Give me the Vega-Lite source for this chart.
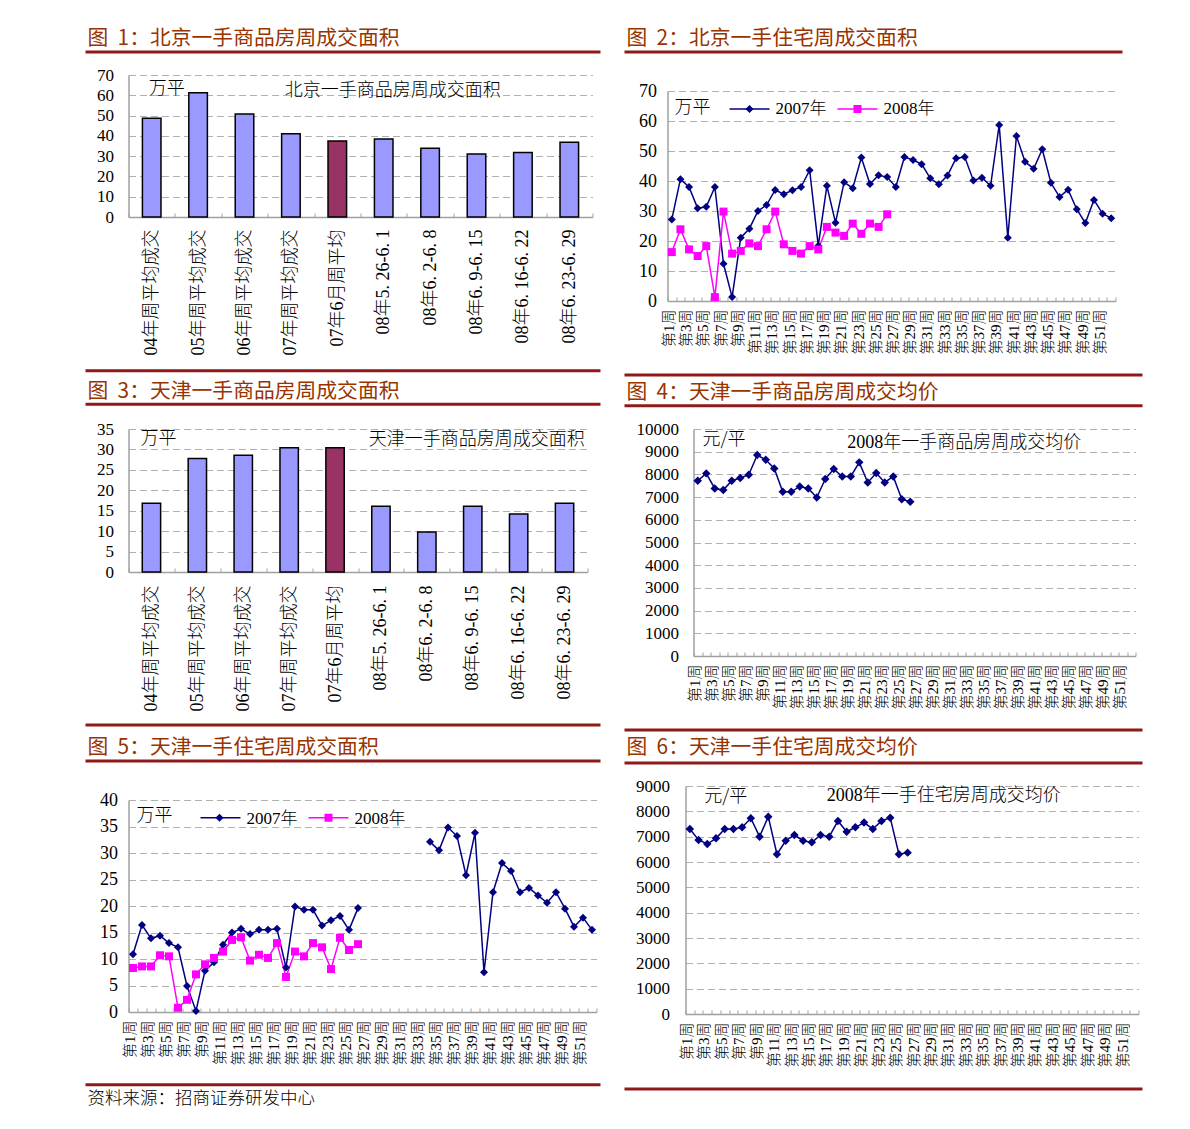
{
  "$schema": "https://vega.github.io/schema/vega-lite/v6.json",
  "background": "white",
  "padding": {"left": 83.5, "top": 20, "right": 0, "bottom": 0},
  "config": {
    "view": {"stroke": null},
    "font": "Liberation Serif, Noto Sans CJK SC",
    "axis": {
      "labelFont": "Liberation Serif, Noto Sans CJK SC",
      "labelFontWeight": 300,
      "labelColor": "#000000",
      "domainColor": "#A0A0A0",
      "domainWidth": 1.5,
      "tickColor": "#A0A0A0",
      "tickWidth": 1,
      "gridColor": "#B0B0B0",
      "gridDash": [7, 4],
      "gridWidth": 1,
      "labelOverlap": false
    },
    "axisX": {"grid": false, "tickSize": -4, "labelFlush": false},
    "axisY": {"grid": true, "ticks": false, "tickSize": 0},
    "text": {"color": "#000000"}
  },
  "datasets": {
    "bj_bar": [
      {"label": "04年周平均成交", "value": 48.7},
      {"label": "05年周平均成交", "value": 61.3},
      {"label": "06年周平均成交", "value": 50.8},
      {"label": "07年周平均成交", "value": 41.1},
      {"label": "07年6月周平均", "value": 37.5},
      {"label": "08年5. 26-6. 1", "value": 38.4},
      {"label": "08年6. 2-6. 8", "value": 33.9},
      {"label": "08年6. 9-6. 15", "value": 31.0},
      {"label": "08年6. 16-6. 22", "value": 31.8},
      {"label": "08年6. 23-6. 29", "value": 36.9}
    ],
    "tj_bar": [
      {"label": "04年周平均成交", "value": 16.8},
      {"label": "05年周平均成交", "value": 27.8},
      {"label": "06年周平均成交", "value": 28.6},
      {"label": "07年周平均成交", "value": 30.4},
      {"label": "07年6月周平均", "value": 30.4},
      {"label": "08年5. 26-6. 1", "value": 16.1},
      {"label": "08年6. 2-6. 8", "value": 9.8},
      {"label": "08年6. 9-6. 15", "value": 16.1},
      {"label": "08年6. 16-6. 22", "value": 14.2},
      {"label": "08年6. 23-6. 29", "value": 16.8}
    ],
    "bj_week": [
      {"week": 1, "series": "2007年", "value": 27.2},
      {"week": 2, "series": "2007年", "value": 40.6},
      {"week": 3, "series": "2007年", "value": 38.0},
      {"week": 4, "series": "2007年", "value": 30.9},
      {"week": 5, "series": "2007年", "value": 31.4},
      {"week": 6, "series": "2007年", "value": 38.0},
      {"week": 7, "series": "2007年", "value": 12.4},
      {"week": 8, "series": "2007年", "value": 1.3},
      {"week": 9, "series": "2007年", "value": 21.1},
      {"week": 10, "series": "2007年", "value": 24.1},
      {"week": 11, "series": "2007年", "value": 30.0},
      {"week": 12, "series": "2007年", "value": 32.0},
      {"week": 13, "series": "2007年", "value": 37.0},
      {"week": 14, "series": "2007年", "value": 35.6},
      {"week": 15, "series": "2007年", "value": 36.9},
      {"week": 16, "series": "2007年", "value": 38.0},
      {"week": 17, "series": "2007年", "value": 43.6},
      {"week": 18, "series": "2007年", "value": 18.4},
      {"week": 19, "series": "2007年", "value": 38.4},
      {"week": 20, "series": "2007年", "value": 26.1},
      {"week": 21, "series": "2007年", "value": 39.6},
      {"week": 22, "series": "2007年", "value": 37.6},
      {"week": 23, "series": "2007年", "value": 47.8},
      {"week": 24, "series": "2007年", "value": 39.0},
      {"week": 25, "series": "2007年", "value": 41.9},
      {"week": 26, "series": "2007年", "value": 41.3},
      {"week": 27, "series": "2007年", "value": 38.0},
      {"week": 28, "series": "2007年", "value": 48.0},
      {"week": 29, "series": "2007年", "value": 47.0},
      {"week": 30, "series": "2007年", "value": 45.6},
      {"week": 31, "series": "2007年", "value": 40.9},
      {"week": 32, "series": "2007年", "value": 38.9},
      {"week": 33, "series": "2007年", "value": 41.8},
      {"week": 34, "series": "2007年", "value": 47.6},
      {"week": 35, "series": "2007年", "value": 48.0},
      {"week": 36, "series": "2007年", "value": 40.2},
      {"week": 37, "series": "2007年", "value": 41.1},
      {"week": 38, "series": "2007年", "value": 38.4},
      {"week": 39, "series": "2007年", "value": 58.7},
      {"week": 40, "series": "2007年", "value": 21.1},
      {"week": 41, "series": "2007年", "value": 55.0},
      {"week": 42, "series": "2007年", "value": 46.4},
      {"week": 43, "series": "2007年", "value": 44.1},
      {"week": 44, "series": "2007年", "value": 50.6},
      {"week": 45, "series": "2007年", "value": 39.4},
      {"week": 46, "series": "2007年", "value": 34.7},
      {"week": 47, "series": "2007年", "value": 37.1},
      {"week": 48, "series": "2007年", "value": 30.6},
      {"week": 49, "series": "2007年", "value": 26.0},
      {"week": 50, "series": "2007年", "value": 33.7},
      {"week": 51, "series": "2007年", "value": 29.1},
      {"week": 52, "series": "2007年", "value": 27.6},
      {"week": 1, "series": "2008年", "value": 16.3},
      {"week": 2, "series": "2008年", "value": 23.9},
      {"week": 3, "series": "2008年", "value": 17.2},
      {"week": 4, "series": "2008年", "value": 15.0},
      {"week": 5, "series": "2008年", "value": 18.3},
      {"week": 6, "series": "2008年", "value": 1.3},
      {"week": 7, "series": "2008年", "value": 29.8},
      {"week": 8, "series": "2008年", "value": 15.8},
      {"week": 9, "series": "2008年", "value": 16.7},
      {"week": 10, "series": "2008年", "value": 19.2},
      {"week": 11, "series": "2008年", "value": 18.3},
      {"week": 12, "series": "2008年", "value": 23.9},
      {"week": 13, "series": "2008年", "value": 29.8},
      {"week": 14, "series": "2008年", "value": 18.9},
      {"week": 15, "series": "2008年", "value": 16.7},
      {"week": 16, "series": "2008年", "value": 15.8},
      {"week": 17, "series": "2008年", "value": 18.3},
      {"week": 18, "series": "2008年", "value": 17.2},
      {"week": 19, "series": "2008年", "value": 24.7},
      {"week": 20, "series": "2008年", "value": 22.8},
      {"week": 21, "series": "2008年", "value": 21.7},
      {"week": 22, "series": "2008年", "value": 25.8},
      {"week": 23, "series": "2008年", "value": 22.4},
      {"week": 24, "series": "2008年", "value": 25.8},
      {"week": 25, "series": "2008年", "value": 24.7},
      {"week": 26, "series": "2008年", "value": 28.9}
    ],
    "tj_price": [
      {"week": 1, "value": 7720}, {"week": 2, "value": 8045}, {"week": 3, "value": 7380},
      {"week": 4, "value": 7310}, {"week": 5, "value": 7720}, {"week": 6, "value": 7840},
      {"week": 7, "value": 7985}, {"week": 8, "value": 8855}, {"week": 9, "value": 8645},
      {"week": 10, "value": 8265}, {"week": 11, "value": 7235}, {"week": 12, "value": 7235},
      {"week": 13, "value": 7470}, {"week": 14, "value": 7380}, {"week": 15, "value": 6985},
      {"week": 16, "value": 7795}, {"week": 17, "value": 8235}, {"week": 18, "value": 7910},
      {"week": 19, "value": 7910}, {"week": 20, "value": 8530}, {"week": 21, "value": 7645},
      {"week": 22, "value": 8060}, {"week": 23, "value": 7645}, {"week": 24, "value": 7910},
      {"week": 25, "value": 6910}, {"week": 26, "value": 6795}
    ],
    "tj_week": [
      {"week": 1, "series": "2007年", "value": 10.9},
      {"week": 2, "series": "2007年", "value": 16.4},
      {"week": 3, "series": "2007年", "value": 13.9},
      {"week": 4, "series": "2007年", "value": 14.4},
      {"week": 5, "series": "2007年", "value": 13.0},
      {"week": 6, "series": "2007年", "value": 12.2},
      {"week": 7, "series": "2007年", "value": 4.9},
      {"week": 8, "series": "2007年", "value": 0.2},
      {"week": 9, "series": "2007年", "value": 7.8},
      {"week": 10, "series": "2007年", "value": 9.4},
      {"week": 11, "series": "2007年", "value": 12.7},
      {"week": 12, "series": "2007年", "value": 15.0},
      {"week": 13, "series": "2007年", "value": 15.7},
      {"week": 14, "series": "2007年", "value": 14.7},
      {"week": 15, "series": "2007年", "value": 15.5},
      {"week": 16, "series": "2007年", "value": 15.5},
      {"week": 17, "series": "2007年", "value": 15.7},
      {"week": 18, "series": "2007年", "value": 8.4},
      {"week": 19, "series": "2007年", "value": 19.9},
      {"week": 20, "series": "2007年", "value": 19.3},
      {"week": 21, "series": "2007年", "value": 19.3},
      {"week": 22, "series": "2007年", "value": 16.3},
      {"week": 23, "series": "2007年", "value": 17.3},
      {"week": 24, "series": "2007年", "value": 18.1},
      {"week": 25, "series": "2007年", "value": 15.5},
      {"week": 26, "series": "2007年", "value": 19.6},
      {"week": 27, "series": "2007年", "value": null},
      {"week": 28, "series": "2007年", "value": null},
      {"week": 29, "series": "2007年", "value": null},
      {"week": 30, "series": "2007年", "value": null},
      {"week": 31, "series": "2007年", "value": null},
      {"week": 32, "series": "2007年", "value": null},
      {"week": 33, "series": "2007年", "value": null},
      {"week": 34, "series": "2007年", "value": 32.1},
      {"week": 35, "series": "2007年", "value": 30.5},
      {"week": 36, "series": "2007年", "value": 34.8},
      {"week": 37, "series": "2007年", "value": 33.2},
      {"week": 38, "series": "2007年", "value": 25.8},
      {"week": 39, "series": "2007年", "value": 33.8},
      {"week": 40, "series": "2007年", "value": 7.5},
      {"week": 41, "series": "2007年", "value": 22.6},
      {"week": 42, "series": "2007年", "value": 28.1},
      {"week": 43, "series": "2007年", "value": 26.6},
      {"week": 44, "series": "2007年", "value": 22.6},
      {"week": 45, "series": "2007年", "value": 23.4},
      {"week": 46, "series": "2007年", "value": 22.0},
      {"week": 47, "series": "2007年", "value": 20.6},
      {"week": 48, "series": "2007年", "value": 22.6},
      {"week": 49, "series": "2007年", "value": 19.5},
      {"week": 50, "series": "2007年", "value": 16.1},
      {"week": 51, "series": "2007年", "value": 17.8},
      {"week": 52, "series": "2007年", "value": 15.5},
      {"week": 1, "series": "2008年", "value": 8.3},
      {"week": 2, "series": "2008年", "value": 8.6},
      {"week": 3, "series": "2008年", "value": 8.6},
      {"week": 4, "series": "2008年", "value": 10.7},
      {"week": 5, "series": "2008年", "value": 10.5},
      {"week": 6, "series": "2008年", "value": 0.8},
      {"week": 7, "series": "2008年", "value": 2.3},
      {"week": 8, "series": "2008年", "value": 7.1},
      {"week": 9, "series": "2008年", "value": 9.0},
      {"week": 10, "series": "2008年", "value": 10.2},
      {"week": 11, "series": "2008年", "value": 11.4},
      {"week": 12, "series": "2008年", "value": 13.6},
      {"week": 13, "series": "2008年", "value": 14.1},
      {"week": 14, "series": "2008年", "value": 9.7},
      {"week": 15, "series": "2008年", "value": 10.8},
      {"week": 16, "series": "2008年", "value": 10.2},
      {"week": 17, "series": "2008年", "value": 13.0},
      {"week": 18, "series": "2008年", "value": 6.6},
      {"week": 19, "series": "2008年", "value": 11.4},
      {"week": 20, "series": "2008年", "value": 10.5},
      {"week": 21, "series": "2008年", "value": 13.0},
      {"week": 22, "series": "2008年", "value": 12.2},
      {"week": 23, "series": "2008年", "value": 8.1},
      {"week": 24, "series": "2008年", "value": 14.0},
      {"week": 25, "series": "2008年", "value": 11.7},
      {"week": 26, "series": "2008年", "value": 12.8}
    ],
    "tj_res_price": [
      {"week": 1, "value": 7305}, {"week": 2, "value": 6870}, {"week": 3, "value": 6710},
      {"week": 4, "value": 6935}, {"week": 5, "value": 7305}, {"week": 6, "value": 7305},
      {"week": 7, "value": 7370}, {"week": 8, "value": 7725}, {"week": 9, "value": 7000},
      {"week": 10, "value": 7790}, {"week": 11, "value": 6305}, {"week": 12, "value": 6840},
      {"week": 13, "value": 7065}, {"week": 14, "value": 6840}, {"week": 15, "value": 6775},
      {"week": 16, "value": 7065}, {"week": 17, "value": 7000}, {"week": 18, "value": 7620},
      {"week": 19, "value": 7195}, {"week": 20, "value": 7370}, {"week": 21, "value": 7555},
      {"week": 22, "value": 7305}, {"week": 23, "value": 7620}, {"week": 24, "value": 7750},
      {"week": 25, "value": 6305}, {"week": 26, "value": 6370}
    ]
  },
  "spacing": 17,
  "hconcat": [
    {
      "spacing": 0,
      "vconcat": [
        {
          "width": 515, "height": 46,
          "data": {"values": [{"t": "图\u00a0\u00a01：北京一手商品房周成交面积"}]},
          "layer": [
            {"mark": {"type": "rule", "color": "#8E1A1A", "strokeWidth": 3},
             "encoding": {"y": {"datum": 0.3043, "type": "quantitative", "scale": {"domain": [0, 1], "nice": false}, "axis": null}}},
            {"mark": {"type": "text", "align": "left", "baseline": "middle", "font": "Noto Sans CJK SC", "fontSize": 20.8, "color": "#993300", "dx": 2, "dy": 2},
             "encoding": {
               "x": {"datum": 0, "type": "quantitative", "scale": {"domain": [0, 1], "nice": false}, "axis": null},
               "y": {"datum": 0.6304, "type": "quantitative"},
               "text": {"field": "t"}}}
          ]
        },
        {
          "spacing": 0,
          "hconcat": [
            {"width": 1, "height": 1, "data": {"values": []}, "mark": {"type": "point"}, "encoding": {}},
            {
              "width": 464, "height": 142,
              "data": {"name": "bj_bar"},
              "layer": [
                {"mark": {"type": "bar", "width": {"band": 0.4}, "stroke": "#000000", "strokeWidth": 1.5},
                 "encoding": {
                   "x": {"field": "label", "type": "nominal", "sort": null, "scale": {"paddingInner": 0, "paddingOuter": 0},
                         "axis": {"title": null, "labelAngle": 270, "labelPadding": 16, "labelFontSize": 18, "tickBand": "extent", "labelOverlap": false, "minExtent": 145}},
                   "y": {"field": "value", "type": "quantitative", "scale": {"domain": [0, 70], "nice": false},
                         "axis": {"title": null, "values": [0, 10, 20, 30, 40, 50, 60, 70], "tickCount": 100, "format": "d", "labelOverlap": false, "labelPadding": 15, "labelFontSize": 17, "minExtent": 42}},
                   "fill": {"condition": {"test": "datum.label === '07年6月周平均'", "value": "#993366"}, "value": "#9999FF"}}},
                {"data": {"values": [{}]},
                 "mark": {"type": "text", "align": "left", "baseline": "middle", "font": "Noto Sans CJK SC", "fontWeight": 300, "fontSize": 18, "dx": -3},
                 "encoding": {"x": {"datum": "04年周平均成交", "type": "nominal"}, "y": {"datum": 63.2, "type": "quantitative"}, "text": {"value": "万平"}}},
                {"data": {"values": [{}]},
                 "mark": {"type": "text", "align": "center", "baseline": "middle", "font": "Noto Sans CJK SC", "fontWeight": 300, "fontSize": 18, "dx": 9},
                 "encoding": {"x": {"datum": "08年5. 26-6. 1", "type": "nominal"}, "y": {"datum": 61.9, "type": "quantitative"}, "text": {"value": "北京一手商品房周成交面积"}}}
              ]
            }
          ]
        },
        {
          "width": 515, "height": 57.3,
          "data": {"values": [{"t": "图\u00a0\u00a03：天津一手商品房周成交面积"}]},
          "layer": [
            {"mark": {"type": "rule", "color": "#8E1A1A", "strokeWidth": 3},
             "encoding": {"y": {"datum": 0.8482, "type": "quantitative", "scale": {"domain": [0, 1], "nice": false}, "axis": null}}},
            {"mark": {"type": "rule", "color": "#8E1A1A", "strokeWidth": 3},
             "encoding": {"y": {"datum": 0.2618, "type": "quantitative"}}},
            {"mark": {"type": "text", "align": "left", "baseline": "middle", "font": "Noto Sans CJK SC", "fontSize": 20.8, "color": "#993300", "dx": 2, "dy": 2},
             "encoding": {
               "x": {"datum": 0, "type": "quantitative", "scale": {"domain": [0, 1], "nice": false}, "axis": null},
               "y": {"datum": 0.5113, "type": "quantitative"},
               "text": {"field": "t"}}}
          ]
        },
        {
          "spacing": 0,
          "hconcat": [
            {"width": 1, "height": 1, "data": {"values": []}, "mark": {"type": "point"}, "encoding": {}},
            {
              "width": 459, "height": 143,
              "data": {"name": "tj_bar"},
              "layer": [
                {"mark": {"type": "bar", "width": {"band": 0.4}, "stroke": "#000000", "strokeWidth": 1.5},
                 "encoding": {
                   "x": {"field": "label", "type": "nominal", "sort": null, "scale": {"paddingInner": 0, "paddingOuter": 0},
                         "axis": {"title": null, "labelAngle": 270, "labelPadding": 17, "labelFontSize": 18, "tickBand": "extent", "labelOverlap": false, "minExtent": 144.7}},
                   "y": {"field": "value", "type": "quantitative", "scale": {"domain": [0, 35], "nice": false},
                         "axis": {"title": null, "values": [0, 5, 10, 15, 20, 25, 30, 35], "tickCount": 100, "format": "d", "labelOverlap": false, "labelPadding": 15, "labelFontSize": 17, "minExtent": 42}},
                   "fill": {"condition": {"test": "datum.label === '07年6月周平均'", "value": "#993366"}, "value": "#9999FF"}}},
                {"data": {"values": [{}]},
                 "mark": {"type": "text", "align": "left", "baseline": "middle", "font": "Noto Sans CJK SC", "fontWeight": 300, "fontSize": 18, "dx": -11},
                 "encoding": {"x": {"datum": "04年周平均成交", "type": "nominal"}, "y": {"datum": 32.5, "type": "quantitative"}, "text": {"value": "万平"}}},
                {"data": {"values": [{}]},
                 "mark": {"type": "text", "align": "center", "baseline": "middle", "font": "Noto Sans CJK SC", "fontWeight": 300, "fontSize": 18, "dx": 4},
                 "encoding": {"x": {"datum": "08年6. 9-6. 15", "type": "nominal"}, "y": {"datum": 32.4, "type": "quantitative"}, "text": {"value": "天津一手商品房周成交面积"}}}
              ]
            }
          ]
        },
        {
          "width": 515, "height": 73.3,
          "data": {"values": [{"t": "图\u00a0\u00a05：天津一手住宅周成交面积"}]},
          "layer": [
            {"mark": {"type": "rule", "color": "#8E1A1A", "strokeWidth": 3},
             "encoding": {"y": {"datum": 0.8909, "type": "quantitative", "scale": {"domain": [0, 1], "nice": false}, "axis": null}}},
            {"mark": {"type": "rule", "color": "#8E1A1A", "strokeWidth": 3},
             "encoding": {"y": {"datum": 0.3997, "type": "quantitative"}}},
            {"mark": {"type": "text", "align": "left", "baseline": "middle", "font": "Noto Sans CJK SC", "fontSize": 20.8, "color": "#993300", "dx": 2, "dy": 2},
             "encoding": {
               "x": {"datum": 0, "type": "quantitative", "scale": {"domain": [0, 1], "nice": false}, "axis": null},
               "y": {"datum": 0.6044, "type": "quantitative"},
               "text": {"field": "t"}}}
          ]
        },
        {
          "spacing": 0,
          "hconcat": [
            {"width": 1, "height": 1, "data": {"values": []}, "mark": {"type": "point"}, "encoding": {}},
            {
              "width": 468, "height": 212,
              "layer": [
                {"data": {"name": "tj_week"},
                 "mark": {"type": "line", "strokeWidth": 1.5, "invalid": "break-paths-filter-domains"},
                 "encoding": {
                   "x": {"field": "week", "type": "quantitative", "scale": {"domain": [0.5, 52.5], "nice": false, "zero": false},
                         "axis": {"title": null, "values": [0.5,1.5,2.5,3.5,4.5,5.5,6.5,7.5,8.5,9.5,10.5,11.5,12.5,13.5,14.5,15.5,16.5,17.5,18.5,19.5,20.5,21.5,22.5,23.5,24.5,25.5,26.5,27.5,28.5,29.5,30.5,31.5,32.5,33.5,34.5,35.5,36.5,37.5,38.5,39.5,40.5,41.5,42.5,43.5,44.5,45.5,46.5,47.5,48.5,49.5,50.5,51.5,52.5],
                                  "tickCount": 100,
                                  "labelExpr": "datum.value < 52 && (datum.value - 0.5) % 2 == 0 ? '第' + (datum.value + 0.5) + '周' : ''",
                                  "labelAngle": 270, "labelPadding": 12, "labelOffset": 1, "labelFontSize": 15, "labelOverlap": false, "minExtent": 66}},
                   "y": {"field": "value", "type": "quantitative", "scale": {"domain": [0, 40], "nice": false},
                         "axis": {"title": null, "values": [0, 5, 10, 15, 20, 25, 30, 35, 40], "tickCount": 100, "format": "d", "labelOverlap": false, "labelPadding": 11, "labelFontSize": 18, "minExtent": 42}},
                   "color": {"field": "series", "type": "nominal", "scale": {"domain": ["2007年", "2008年"], "range": ["#000080", "#FF00FF"]}, "legend": null}}},
                {"data": {"name": "tj_week"},
                 "mark": {"type": "point", "filled": true, "size": 64, "opacity": 1},
                 "encoding": {
                   "x": {"field": "week", "type": "quantitative"},
                   "y": {"field": "value", "type": "quantitative"},
                   "color": {"field": "series", "type": "nominal", "legend": null},
                   "shape": {"field": "series", "type": "nominal", "scale": {"domain": ["2007年", "2008年"], "range": ["diamond", "square"]}, "legend": null}}},
                {"data": {"values": [{}]},
                 "mark": {"type": "text", "align": "left", "baseline": "middle", "font": "Noto Sans CJK SC", "fontWeight": 300, "fontSize": 18},
                 "encoding": {"x": {"datum": 1.39, "type": "quantitative"}, "y": {"datum": 37.0, "type": "quantitative"}, "text": {"value": "万平"}}},
                {"data": {"values": [{}]},
                 "mark": {"type": "rule", "color": "#000080", "strokeWidth": 1.5},
                 "encoding": {"x": {"datum": 8.5, "type": "quantitative"}, "x2": {"datum": 12.94}, "y": {"datum": 36.66, "type": "quantitative"}}},
                {"data": {"values": [{}]},
                 "mark": {"type": "point", "shape": "diamond", "filled": true, "color": "#000080", "size": 64, "opacity": 1},
                 "encoding": {"x": {"datum": 10.61, "type": "quantitative"}, "y": {"datum": 36.66, "type": "quantitative"}}},
                {"data": {"values": [{}]},
                 "mark": {"type": "text", "align": "left", "baseline": "middle", "font": "Liberation Serif, Noto Sans CJK SC", "fontWeight": 300, "fontSize": 17},
                 "encoding": {"x": {"datum": 13.61, "type": "quantitative"}, "y": {"datum": 36.5, "type": "quantitative"}, "text": {"value": "2007年"}}},
                {"data": {"values": [{}]},
                 "mark": {"type": "rule", "color": "#FF00FF", "strokeWidth": 1.5},
                 "encoding": {"x": {"datum": 20.5, "type": "quantitative"}, "x2": {"datum": 24.94}, "y": {"datum": 36.66, "type": "quantitative"}}},
                {"data": {"values": [{}]},
                 "mark": {"type": "point", "shape": "square", "filled": true, "color": "#FF00FF", "size": 64, "opacity": 1},
                 "encoding": {"x": {"datum": 22.72, "type": "quantitative"}, "y": {"datum": 36.66, "type": "quantitative"}}},
                {"data": {"values": [{}]},
                 "mark": {"type": "text", "align": "left", "baseline": "middle", "font": "Liberation Serif, Noto Sans CJK SC", "fontWeight": 300, "fontSize": 17},
                 "encoding": {"x": {"datum": 25.61, "type": "quantitative"}, "y": {"datum": 36.5, "type": "quantitative"}, "text": {"value": "2008年"}}}
              ]
            }
          ]
        },
        {
          "width": 515, "height": 33.7,
          "data": {"values": [{"t": "资料来源：招商证券研发中心"}]},
          "layer": [
            {"mark": {"type": "rule", "color": "#8E1A1A", "strokeWidth": 3},
             "encoding": {"y": {"datum": 0.8012, "type": "quantitative", "scale": {"domain": [0, 1], "nice": false}, "axis": null}}},
            {"mark": {"type": "text", "align": "left", "baseline": "middle", "font": "Noto Sans CJK SC", "fontWeight": 300, "fontSize": 17.5, "color": "#000000", "dx": 2, "dy": 0},
             "encoding": {
               "x": {"datum": 0, "type": "quantitative", "scale": {"domain": [0, 1], "nice": false}, "axis": null},
               "y": {"datum": 0.3858, "type": "quantitative"},
               "text": {"field": "t"}}}
          ]
        }
      ]
    },
    {
      "spacing": 0,
      "vconcat": [
        {
          "width": 498, "height": 61.3,
          "data": {"values": [{"t": "图\u00a0\u00a02：北京一手住宅周成交面积"}]},
          "layer": [
            {"mark": {"type": "rule", "color": "#8E1A1A", "strokeWidth": 3},
             "encoding": {"y": {"datum": 0.478, "type": "quantitative", "scale": {"domain": [0, 1], "nice": false}, "axis": null}}},
            {"mark": {"type": "text", "align": "left", "baseline": "middle", "font": "Noto Sans CJK SC", "fontSize": 20.8, "color": "#993300", "dx": 2, "dy": 2},
             "encoding": {
               "x": {"datum": 0, "type": "quantitative", "scale": {"domain": [0, 1], "nice": false}, "axis": null},
               "y": {"datum": 0.7227, "type": "quantitative"},
               "text": {"field": "t"}}}
          ]
        },
        {
          "spacing": 0,
          "hconcat": [
            {"width": 1, "height": 1, "data": {"values": []}, "mark": {"type": "point"}, "encoding": {}},
            {
              "width": 448, "height": 210,
              "layer": [
                {"data": {"name": "bj_week"},
                 "mark": {"type": "line", "strokeWidth": 1.5},
                 "encoding": {
                   "x": {"field": "week", "type": "quantitative", "scale": {"domain": [0.5, 52.5], "nice": false, "zero": false},
                         "axis": {"title": null, "values": [0.5,1.5,2.5,3.5,4.5,5.5,6.5,7.5,8.5,9.5,10.5,11.5,12.5,13.5,14.5,15.5,16.5,17.5,18.5,19.5,20.5,21.5,22.5,23.5,24.5,25.5,26.5,27.5,28.5,29.5,30.5,31.5,32.5,33.5,34.5,35.5,36.5,37.5,38.5,39.5,40.5,41.5,42.5,43.5,44.5,45.5,46.5,47.5,48.5,49.5,50.5,51.5,52.5],
                                  "tickCount": 100,
                                  "labelExpr": "datum.value < 52 && (datum.value - 0.5) % 2 == 0 ? '第' + (datum.value + 0.5) + '周' : ''",
                                  "labelAngle": 270, "labelPadding": 12, "labelOffset": 1, "labelFontSize": 15, "labelOverlap": false, "minExtent": 66}},
                   "y": {"field": "value", "type": "quantitative", "scale": {"domain": [0, 70], "nice": false},
                         "axis": {"title": null, "values": [0, 10, 20, 30, 40, 50, 60, 70], "tickCount": 100, "format": "d", "labelOverlap": false, "labelPadding": 11, "labelFontSize": 18, "minExtent": 42}},
                   "color": {"field": "series", "type": "nominal", "scale": {"domain": ["2007年", "2008年"], "range": ["#000080", "#FF00FF"]}, "legend": null}}},
                {"data": {"name": "bj_week"},
                 "mark": {"type": "point", "filled": true, "size": 64, "opacity": 1},
                 "encoding": {
                   "x": {"field": "week", "type": "quantitative"},
                   "y": {"field": "value", "type": "quantitative"},
                   "color": {"field": "series", "type": "nominal", "legend": null},
                   "shape": {"field": "series", "type": "nominal", "scale": {"domain": ["2007年", "2008年"], "range": ["diamond", "square"]}, "legend": null}}},
                {"data": {"values": [{}]},
                 "mark": {"type": "text", "align": "left", "baseline": "middle", "font": "Noto Sans CJK SC", "fontWeight": 300, "fontSize": 18},
                 "encoding": {"x": {"datum": 1.31, "type": "quantitative"}, "y": {"datum": 64.4, "type": "quantitative"}, "text": {"value": "万平"}}},
                {"data": {"values": [{}]},
                 "mark": {"type": "rule", "color": "#000080", "strokeWidth": 1.5},
                 "encoding": {"x": {"datum": 7.7, "type": "quantitative"}, "x2": {"datum": 12.35}, "y": {"datum": 64, "type": "quantitative"}}},
                {"data": {"values": [{}]},
                 "mark": {"type": "point", "shape": "diamond", "filled": true, "color": "#000080", "size": 64, "opacity": 1},
                 "encoding": {"x": {"datum": 10.02, "type": "quantitative"}, "y": {"datum": 64, "type": "quantitative"}}},
                {"data": {"values": [{}]},
                 "mark": {"type": "text", "align": "left", "baseline": "middle", "font": "Liberation Serif, Noto Sans CJK SC", "fontWeight": 300, "fontSize": 17},
                 "encoding": {"x": {"datum": 13.04, "type": "quantitative"}, "y": {"datum": 64, "type": "quantitative"}, "text": {"value": "2007年"}}},
                {"data": {"values": [{}]},
                 "mark": {"type": "rule", "color": "#FF00FF", "strokeWidth": 1.5},
                 "encoding": {"x": {"datum": 20.23, "type": "quantitative"}, "x2": {"datum": 24.88}, "y": {"datum": 64, "type": "quantitative"}}},
                {"data": {"values": [{}]},
                 "mark": {"type": "point", "shape": "square", "filled": true, "color": "#FF00FF", "size": 64, "opacity": 1},
                 "encoding": {"x": {"datum": 22.55, "type": "quantitative"}, "y": {"datum": 64, "type": "quantitative"}}},
                {"data": {"values": [{}]},
                 "mark": {"type": "text", "align": "left", "baseline": "middle", "font": "Liberation Serif, Noto Sans CJK SC", "fontWeight": 300, "fontSize": 17},
                 "encoding": {"x": {"datum": 25.57, "type": "quantitative"}, "y": {"datum": 64, "type": "quantitative"}, "text": {"value": "2008年"}}}
              ]
            }
          ]
        },
        {
          "width": 518, "height": 53,
          "data": {"values": [{"t": "图\u00a0\u00a04：天津一手商品房周成交均价"}]},
          "layer": [
            {"mark": {"type": "rule", "color": "#8E1A1A", "strokeWidth": 3},
             "encoding": {"y": {"datum": 0.8491, "type": "quantitative", "scale": {"domain": [0, 1], "nice": false}, "axis": null}}},
            {"mark": {"type": "rule", "color": "#8E1A1A", "strokeWidth": 3},
             "encoding": {"y": {"datum": 0.2698, "type": "quantitative"}}},
            {"mark": {"type": "text", "align": "left", "baseline": "middle", "font": "Noto Sans CJK SC", "fontSize": 20.8, "color": "#993300", "dx": 2, "dy": 2},
             "encoding": {
               "x": {"datum": 0, "type": "quantitative", "scale": {"domain": [0, 1], "nice": false}, "axis": null},
               "y": {"datum": 0.5528, "type": "quantitative"},
               "text": {"field": "t"}}}
          ]
        },
        {
          "spacing": 0,
          "hconcat": [
            {"width": 1, "height": 1, "data": {"values": []}, "mark": {"type": "point"}, "encoding": {}},
            {
              "width": 442, "height": 227,
              "layer": [
                {"data": {"name": "tj_price"},
                 "mark": {"type": "line", "strokeWidth": 1.5, "color": "#000080"},
                 "encoding": {
                   "x": {"field": "week", "type": "quantitative", "scale": {"domain": [0.5, 52.5], "nice": false, "zero": false},
                         "axis": {"title": null, "values": [0.5,1.5,2.5,3.5,4.5,5.5,6.5,7.5,8.5,9.5,10.5,11.5,12.5,13.5,14.5,15.5,16.5,17.5,18.5,19.5,20.5,21.5,22.5,23.5,24.5,25.5,26.5,27.5,28.5,29.5,30.5,31.5,32.5,33.5,34.5,35.5,36.5,37.5,38.5,39.5,40.5,41.5,42.5,43.5,44.5,45.5,46.5,47.5,48.5,49.5,50.5,51.5,52.5],
                                  "tickCount": 100,
                                  "labelExpr": "datum.value < 52 && (datum.value - 0.5) % 2 == 0 ? '第' + (datum.value + 0.5) + '周' : ''",
                                  "labelAngle": 270, "labelPadding": 12, "labelOffset": 1, "labelFontSize": 15, "labelOverlap": false, "minExtent": 66.7}},
                   "y": {"field": "value", "type": "quantitative", "scale": {"domain": [0, 10000], "nice": false},
                         "axis": {"title": null, "values": [0, 1000, 2000, 3000, 4000, 5000, 6000, 7000, 8000, 9000, 10000], "tickCount": 100, "labelOverlap": false, "format": "d", "labelPadding": 15, "labelFontSize": 17, "minExtent": 68}}}},
                {"data": {"name": "tj_price"},
                 "mark": {"type": "point", "shape": "diamond", "filled": true, "size": 72, "color": "#000080", "opacity": 1},
                 "encoding": {"x": {"field": "week", "type": "quantitative"}, "y": {"field": "value", "type": "quantitative"}}},
                {"data": {"values": [{}]},
                 "mark": {"type": "text", "align": "left", "baseline": "middle", "font": "Noto Sans CJK SC", "fontWeight": 300, "fontSize": 18},
                 "encoding": {"x": {"datum": 1.56, "type": "quantitative"}, "y": {"datum": 9515, "type": "quantitative"}, "text": {"value": "元/平"}}},
                {"data": {"values": [{}]},
                 "mark": {"type": "text", "align": "left", "baseline": "middle", "font": "Liberation Serif, Noto Sans CJK SC", "fontWeight": 300, "fontSize": 18},
                 "encoding": {"x": {"datum": 18.58, "type": "quantitative"}, "y": {"datum": 9366, "type": "quantitative"}, "text": {"value": "2008年一手商品房周成交均价"}}}
              ]
            }
          ]
        },
        {
          "width": 518, "height": 53.3,
          "data": {"values": [{"t": "图\u00a0\u00a06：天津一手住宅周成交均价"}]},
          "layer": [
            {"mark": {"type": "rule", "color": "#8E1A1A", "strokeWidth": 3},
             "encoding": {"y": {"datum": 0.8687, "type": "quantitative", "scale": {"domain": [0, 1], "nice": false}, "axis": null}}},
            {"mark": {"type": "rule", "color": "#8E1A1A", "strokeWidth": 3},
             "encoding": {"y": {"datum": 0.2495, "type": "quantitative"}}},
            {"mark": {"type": "text", "align": "left", "baseline": "middle", "font": "Noto Sans CJK SC", "fontSize": 20.8, "color": "#993300", "dx": 2, "dy": 2},
             "encoding": {
               "x": {"datum": 0, "type": "quantitative", "scale": {"domain": [0, 1], "nice": false}, "axis": null},
               "y": {"datum": 0.5685, "type": "quantitative"},
               "text": {"field": "t"}}}
          ]
        },
        {
          "spacing": 0,
          "hconcat": [
            {"width": 1, "height": 1, "data": {"values": []}, "mark": {"type": "point"}, "encoding": {}},
            {
              "width": 453, "height": 228,
              "layer": [
                {"data": {"name": "tj_res_price"},
                 "mark": {"type": "line", "strokeWidth": 1.5, "color": "#000080"},
                 "encoding": {
                   "x": {"field": "week", "type": "quantitative", "scale": {"domain": [0.5, 52.5], "nice": false, "zero": false},
                         "axis": {"title": null, "values": [0.5,1.5,2.5,3.5,4.5,5.5,6.5,7.5,8.5,9.5,10.5,11.5,12.5,13.5,14.5,15.5,16.5,17.5,18.5,19.5,20.5,21.5,22.5,23.5,24.5,25.5,26.5,27.5,28.5,29.5,30.5,31.5,32.5,33.5,34.5,35.5,36.5,37.5,38.5,39.5,40.5,41.5,42.5,43.5,44.5,45.5,46.5,47.5,48.5,49.5,50.5,51.5,52.5],
                                  "tickCount": 100,
                                  "labelExpr": "datum.value < 52 && (datum.value - 0.5) % 2 == 0 ? '第' + (datum.value + 0.5) + '周' : ''",
                                  "labelAngle": 270, "labelPadding": 12, "labelOffset": 1, "labelFontSize": 15, "labelOverlap": false, "minExtent": 67.7}},
                   "y": {"field": "value", "type": "quantitative", "scale": {"domain": [0, 9000], "nice": false},
                         "axis": {"title": null, "values": [0, 1000, 2000, 3000, 4000, 5000, 6000, 7000, 8000, 9000], "tickCount": 100, "labelOverlap": false, "format": "d", "labelPadding": 16, "labelFontSize": 17, "minExtent": 59.6}}}},
                {"data": {"name": "tj_res_price"},
                 "mark": {"type": "point", "shape": "diamond", "filled": true, "size": 72, "color": "#000080", "opacity": 1},
                 "encoding": {"x": {"field": "week", "type": "quantitative"}, "y": {"field": "value", "type": "quantitative"}}},
                {"data": {"values": [{}]},
                 "mark": {"type": "text", "align": "left", "baseline": "middle", "font": "Noto Sans CJK SC", "fontWeight": 300, "fontSize": 18},
                 "encoding": {"x": {"datum": 2.65, "type": "quantitative"}, "y": {"datum": 8578, "type": "quantitative"}, "text": {"value": "元/平"}}},
                {"data": {"values": [{}]},
                 "mark": {"type": "text", "align": "left", "baseline": "middle", "font": "Liberation Serif, Noto Sans CJK SC", "fontWeight": 300, "fontSize": 18},
                 "encoding": {"x": {"datum": 16.7, "type": "quantitative"}, "y": {"datum": 8606, "type": "quantitative"}, "text": {"value": "2008年一手住宅房周成交均价"}}}
              ]
            }
          ]
        },
        {
          "width": 518, "height": 30,
          "data": {"values": [{}]},
          "mark": {"type": "rule", "color": "#8E1A1A", "strokeWidth": 3},
          "encoding": {"y": {"datum": 0.7667, "type": "quantitative", "scale": {"domain": [0, 1], "nice": false}, "axis": null}}
        }
      ]
    }
  ]
}
